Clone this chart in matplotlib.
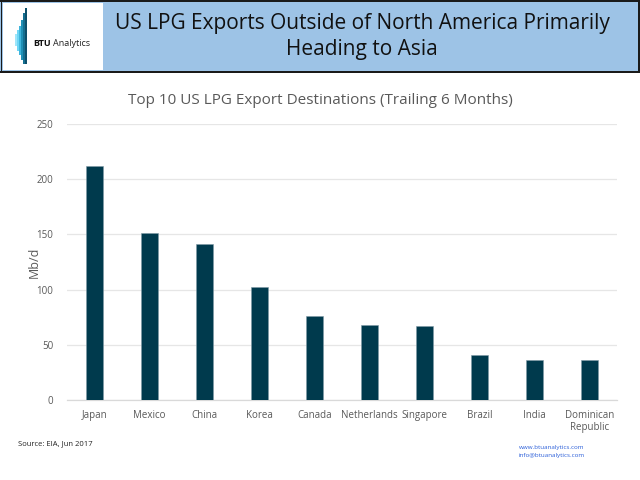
import matplotlib
matplotlib.use("Agg")
import matplotlib.pyplot as plt
from matplotlib.patches import Rectangle
import numpy as np

categories = ["Japan", "Mexico", "China", "Korea", "Canada", "Netherlands",
              "Singapore", "Brazil", "India", "Dominican\nRepublic"]
values = [212, 151, 141, 102, 76, 68, 67, 41, 36, 36]
yticks = [0, 50, 100, 150, 200, 250]

plt.rcParams['font.family'] = ['Open Sans', 'DejaVu Sans']

W, H = 640, 480
fig = plt.figure(figsize=(6.4, 4.8), dpi=100)

def fx(x):
    return x / W

def fy(y):
    return 1 - y / H

# Header
fig.patches.append(Rectangle((fx(0), fy(73)), 1, 73 / H, transform=fig.transFigure,
                             facecolor="#9DC3E6", edgecolor="none", zorder=0))
fig.patches.append(Rectangle((fx(0), fy(73)), 1, 2 / H, transform=fig.transFigure,
                             facecolor="#1a1a1a", edgecolor="none", zorder=1))
fig.patches.append(Rectangle((fx(0.5), fy(73)), 1.5 / W, 73 / H, transform=fig.transFigure,
                             facecolor="#1a1a1a", edgecolor="none", zorder=1))
fig.patches.append(Rectangle((fx(638), fy(73)), 2 / W, 73 / H, transform=fig.transFigure,
                             facecolor="#1a1a1a", edgecolor="none", zorder=1))
fig.patches.append(Rectangle((fx(0), fy(1.5)), 1, 1.5 / H, transform=fig.transFigure,
                             facecolor="#1a1a1a", edgecolor="none", zorder=1))
# logo box
fig.patches.append(Rectangle((fx(3), fy(70)), 100 / W, 67 / H, transform=fig.transFigure,
                             facecolor="white", edgecolor="none", zorder=2))
# logo stripes
stripes = [(15, 34, 46, "#9fe6fb"), (17, 30, 51, "#6fd6f5"), (19, 26, 55, "#3fb5dc"),
           (21, 20, 60, "#1f8fb5"), (23, 13, 64, "#156f90"), (25, 8, 64, "#0d4f6b")]
for x0, y0, y1, c in stripes:
    fig.patches.append(Rectangle((fx(x0), fy(y1)), 2.2 / W, (y1 - y0) / H,
                                 transform=fig.transFigure, facecolor=c,
                                 edgecolor="none", zorder=3))
fig.text(fx(33), fy(43), "BTU", fontsize=6.5, fontweight="bold", color="#111111",
         va="center", ha="left", zorder=4)
fig.text(fx(53), fy(43), "Analytics", fontsize=6.5, color="#222222",
         va="center", ha="left", zorder=4)

fig.text(fx(362), fy(23), "US LPG Exports Outside of North America Primarily",
         fontsize=15, color="#111111", ha="center", va="center")
fig.text(fx(362), fy(49), "Heading to Asia",
         fontsize=15, color="#111111", ha="center", va="center")

# Chart
ax = fig.add_axes([fx(67), fy(400), 550 / W, 276 / H])
x = np.arange(len(categories))
ax.bar(x, values, width=0.31, color="#003A4D", edgecolor="#7f9aa6", linewidth=0.4, zorder=3)
ax.set_xlim(-0.5, len(categories) - 0.5)
ax.set_ylim(0, 250)
ax.set_yticks(yticks)
ax.set_xticks(x)
ax.set_xticklabels(categories, fontsize=7, color="#595959")
ax.tick_params(axis="y", labelsize=7, labelcolor="#595959", length=0, pad=10)
ax.tick_params(axis="x", length=0, pad=7)
ax.grid(axis="y", color="#e6e6e6", linewidth=0.9, zorder=0)
for s in ["top", "right", "left"]:
    ax.spines[s].set_visible(False)
ax.spines["bottom"].set_color("#d9d9d9")
ax.spines["bottom"].set_linewidth(0.9)
ax.set_ylabel("Mb/d", fontsize=9, color="#595959", labelpad=-3)

fig.text(fx(320), fy(101), "Top 10 US LPG Export Destinations (Trailing 6 Months)",
         fontsize=11, color="#595959", ha="center", va="center")

fig.text(fx(18), fy(444), "Source: EIA, Jun 2017", fontsize=5.5, color="#222222",
         ha="left", va="center")
fig.text(fx(519), fy(447), "www.btuanalytics.com", fontsize=4.5, color="#2b5fd9",
         ha="left", va="center")
fig.text(fx(519), fy(455), "info@btuanalytics.com", fontsize=4.5, color="#2b5fd9",
         ha="left", va="center")

fig.savefig("out.png", dpi=100)
